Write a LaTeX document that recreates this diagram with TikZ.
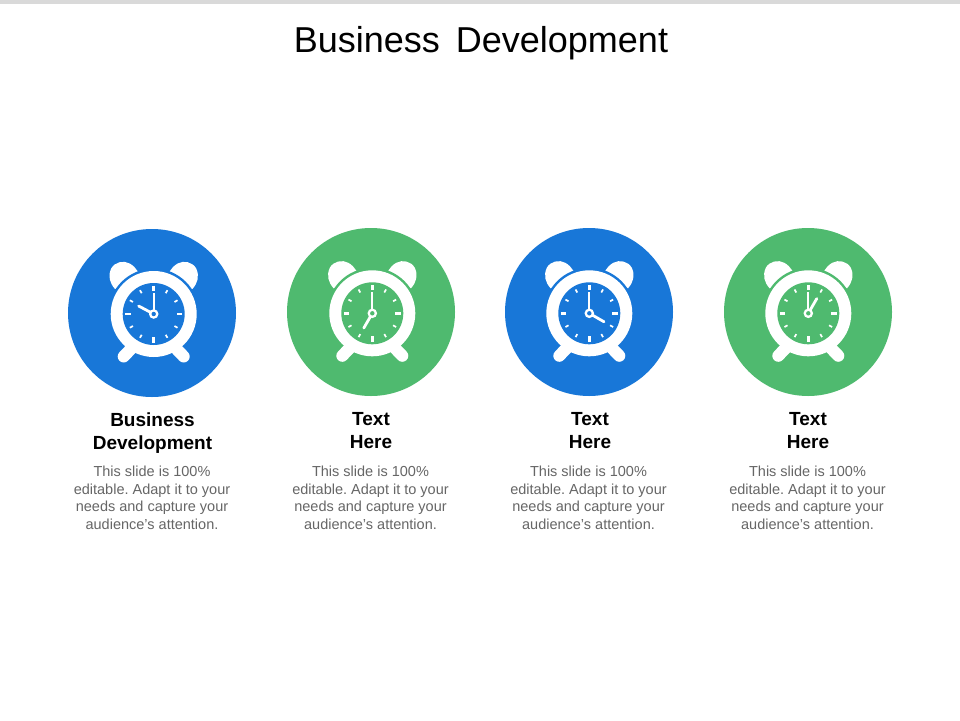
\documentclass[tikz,border=0pt]{standalone}
\usepackage{fontspec}
\setmainfont{Liberation Sans}
\definecolor{cblue}{HTML}{1877D8}
\definecolor{cgreen}{HTML}{4FBA6F}
\definecolor{bodygray}{HTML}{666666}
\definecolor{barg}{HTML}{D9D9D9}
\tikzset{
 disc/.style={circle,inner sep=0pt,minimum size=168pt},
 headtext/.style={align=center,font=\fontsize{19}{23}\selectfont\bfseries,text=black,inner sep=0pt,anchor=north},
 bodytext/.style={align=center,font=\fontsize{14.5}{17.7}\selectfont\frenchspacing,text=bodygray,inner sep=0pt,anchor=north},
 titletext/.style={font=\fontsize{36}{40}\selectfont,text=black,inner sep=0pt},
}
\newcommand{\alarmclock}[4]{%
 \begin{scope}[shift={(#1,#2)}]
  \fill[white] (-38.7,-25) .. controls (-44,-31) and (-46,-38) .. (-42.5,-45.5)
     .. controls (-39,-52) and (-30,-54) .. (-24,-50.5)
     .. controls (-20.5,-48.5) and (-18,-46) .. (-16,-42.7) -- (-20,-30) -- cycle;
  \fill[white] (38.7,-25) .. controls (44,-31) and (46,-38) .. (42.5,-45.5)
     .. controls (39,-52) and (30,-54) .. (24,-50.5)
     .. controls (20.5,-48.5) and (18,-46) .. (16,-42.7) -- (20,-30) -- cycle;
  \fill[#3] (0,0) circle[radius=45.5];
  \draw[white,line width=12,line cap=round] (-19,31) -- (-30,42.5);
  \draw[white,line width=12,line cap=round] (19,31) -- (30,42.5);
  \fill[white] (0,0) circle[radius=43];
  \fill[#3] (0,0) circle[radius=31];
  \foreach \a in {0,90,180,270}
    \draw[white,line width=2.8] (\a:28.5pt) -- (\a:23pt);
  \foreach \a in {30,60,120,150,210,240,300,330}
    \draw[white,line width=1.7] (\a:27.5pt) -- (\a:24pt);
  \draw[white,line width=2.2] (0,0) -- (0,-21);
  \draw[white,line width=2.8,line cap=round] (0,0) -- (#4:17pt);
  \fill[white] (0,0) circle[radius=4.8];
  \fill[#3] (0,0) circle[radius=2.2];
 \end{scope}}
\begin{document}
\begin{tikzpicture}[x=1pt,y=-1pt]
 \useasboundingbox (0,0) rectangle (960,720);
 \fill[white] (0,0) rectangle (960,720);
 \fill[barg] (0,0) rectangle (960,4);
 \node[titletext] (title) at (481,43.5) {Business\hspace{6pt} Development};

 \node[disc,fill=cblue]  (d1) at (152,313) {};
 \node[disc,fill=cgreen] (d2) at (371,312) {};
 \node[disc,fill=cblue]  (d3) at (589,312) {};
 \node[disc,fill=cgreen] (d4) at (808,312) {};

 \alarmclock{153.7}{314}{cblue}{152}
 \alarmclock{372.3}{313.3}{cgreen}{240}
 \alarmclock{589.3}{313.3}{cblue}{-30}
 \alarmclock{808.3}{313.3}{cgreen}{60}

 \node[headtext] (h1) at (152.5,412.5) {Business\\Development};
 \node[headtext] (h2) at (371,412.5) {Text\\Here};
 \node[headtext] (h3) at (590,412.5) {Text\\Here};
 \node[headtext] (h4) at (808,412.5) {Text\\Here};

 \node[bodytext] (b1) at (152,465.8) {This slide is 100\%\\editable. Adapt it to your\\needs and capture your\\audience's attention.};
 \node[bodytext] (b2) at (370.5,465.8) {This slide is 100\%\\editable. Adapt it to your\\needs and capture your\\audience's attention.};
 \node[bodytext] (b3) at (588.5,465.8) {This slide is 100\%\\editable. Adapt it to your\\needs and capture your\\audience's attention.};
 \node[bodytext] (b4) at (807.5,465.8) {This slide is 100\%\\editable. Adapt it to your\\needs and capture your\\audience's attention.};
\end{tikzpicture}
\end{document}
